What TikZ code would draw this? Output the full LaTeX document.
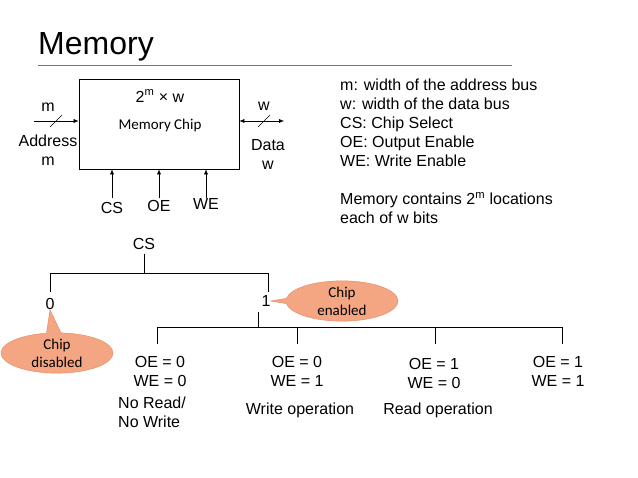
\documentclass[tikz,border=0pt]{standalone}
\usepackage{fontspec}
\setmainfont{Liberation Sans}
\newfontfamily\calib{Carlito}
\usetikzlibrary{shapes.callouts,arrows.meta}
\definecolor{bubble}{HTML}{F4A582}
\definecolor{bubbleline}{HTML}{E4875E}
\definecolor{rulecol}{HTML}{4A7EBB}
\begin{document}
\begin{tikzpicture}[
        x=1pt,y=-1pt,
        txt/.style={inner sep=0pt,font=\fontsize{16}{19}\selectfont},
        lbl/.style={txt,align=center},
        sig/.style={-{Latex[length=5pt,width=4pt]}},
        branch/.style={draw,line width=0.6pt},
        bubbly/.style={ellipse callout,draw=bubbleline,fill=bubble,
            minimum width=112pt,minimum height=36pt,align=center,
            font=\calib\fontsize{15}{18}\selectfont,inner sep=0pt},
        ]
    \useasboundingbox (0,0) rectangle (638,478);
    % title
    \node (title) [anchor=base west,inner sep=0pt,font=\fontsize{32}{36}\selectfont] at (38,55) {Memory};
    \draw [rulecol,line width=1pt] (38,66) -- (512,66);
    % chip
    \node (chip) [draw,line width=0.8pt,minimum width=160pt,minimum height=90pt,inner sep=0pt] at (159,124) {};
    \node (size) [txt] at (160,96) {2\textsuperscript{m} × w};
    \node (name) [txt,font=\calib\fontsize{15}{18}\selectfont] at (160,126) {Memory Chip};
    % address bus
    \coordinate (ain) at (34,121);
    \draw [sig] (ain) -- (chip.west |- ain);
    \draw (50,127) -- (62,115);
    \node (am) [txt] at (48,107) {m};
    \node (addr) [lbl] at (48,150) {Address\\m};
    % data bus
    \coordinate (dout) at (284,121);
    \draw [{Latex[length=5pt,width=4pt]}-{Latex[length=5pt,width=4pt]}] (chip.east |- dout) -- (dout);
    \draw (258,127) -- (270,115);
    \node (dw) [txt] at (264,106) {w};
    \node (data) [lbl] at (268,154) {Data\\w};
    % control lines
    \foreach \x/\s/\y in {112/CS/208, 159/OE/206, 206/WE/204} {
        \coordinate (c\s) at (\x,198);
        \draw [sig] (c\s) -- (chip.south -| c\s);
        \node (l\s) [txt] at (\x,\y) {\s};
    }
    % legend
    \node (legend) [txt,anchor=north west,align=left] at (340,79)
        {m: width of the address bus\\ w: width of the data bus\\ CS: Chip Select\\
         OE: Output Enable\\ WE: Write Enable\\[19pt]
         Memory contains 2\textsuperscript{m} locations\\ each of w bits};
    % decision tree
    \node (cs) [txt] at (144,244) {CS};
    \node (off) [txt] at (50,304) {0};
    \node (on) [txt] at (266,301) {1};
    \draw [branch] (cs.south) ++(0,4) -- (144,273) (50,292) -- (50,273) -- (268,273) -- (268,292);
    \node (leafa) [lbl] at (160,371) {OE = 0\\WE = 0};
    \node (leafb) [lbl] at (297,371) {OE = 0\\WE = 1};
    \node (leafc) [lbl] at (434,373) {OE = 1\\WE = 0};
    \node (leafd) [lbl] at (558,371) {OE = 1\\WE = 1};
    \draw [branch] (258,312) -- (258,327);
    \draw [branch] (157,344) -- (157,327) -- (562,327) -- (562,344)
        (297,327) -- (297,344) (435,327) -- (435,344);
    \node (noop) [lbl,align=left] at (152,412) {No Read/\\No Write};
    \node (wr) [txt] at (300,410) {Write operation};
    \node (rd) [txt] at (438,410) {Read operation};
    % callouts
    \node (enabled) [bubbly,callout absolute pointer={(on.east)}] at (342,301) {Chip\\enabled};
    \node (disabled) [bubbly,callout absolute pointer={(off.south)}] at (57,353) {Chip\\disabled};
\end{tikzpicture}
\end{document}
